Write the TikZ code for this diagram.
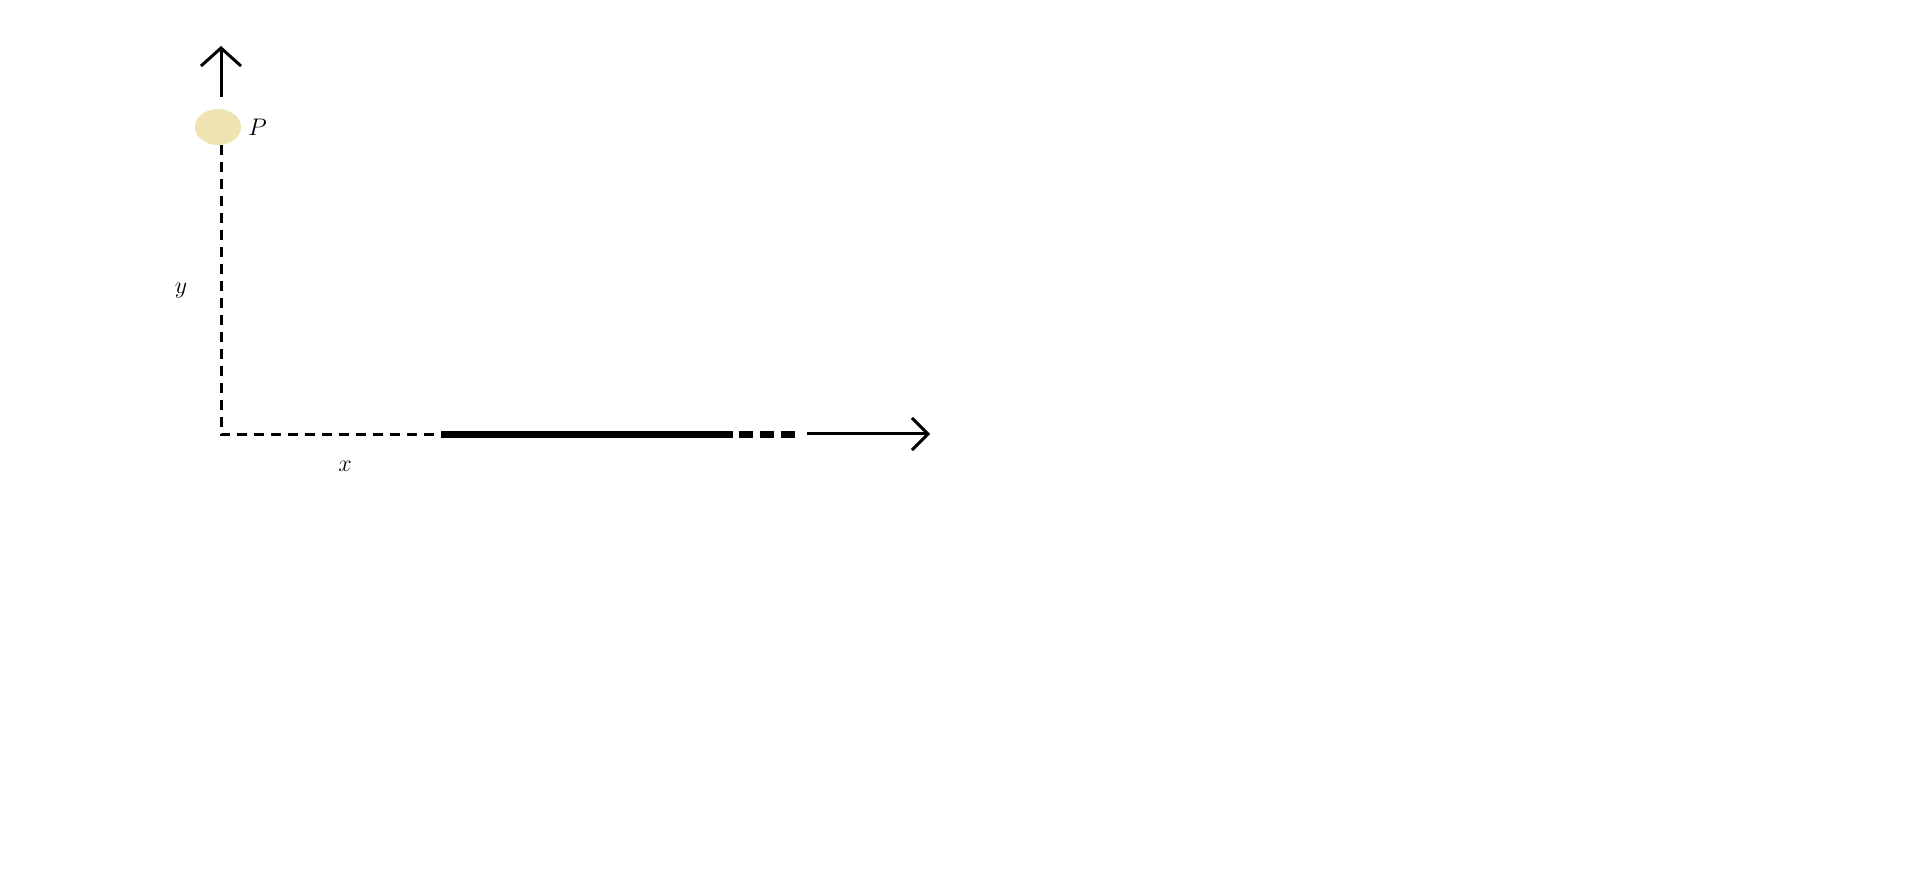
\documentclass[tikz,border=0pt]{standalone}
\usepackage{amsmath}
\usetikzlibrary{arrows.meta,shapes.geometric}
\definecolor{pointfill}{HTML}{EFE3B2}

\begin{document}
\begin{tikzpicture}[x=0.5pt,y=-0.5pt,
    axis/.style={line width=1.5pt,-{Straight Barb[length=9pt,width=20pt,line width=1.5pt]}},
    guide/.style={line width=1.5pt,dash pattern=on 5pt off 3.5pt},
    ray/.style={line width=3.5pt}]
\useasboundingbox (0,0) rectangle (1906,876);

\coordinate (O) at (221,435);
\coordinate (ytip) at (221,46);
\coordinate (rayA) at (441,435);
\coordinate (rayB) at (733,435);
\coordinate (rayC) at (798,435);
\coordinate (xfoot) at (807,434);
\coordinate (xtip) at (930,434);

\node[ellipse,fill=pointfill,minimum width=23pt,minimum height=18pt,inner sep=0pt] (pt) at (218,127) {};
\node[anchor=west,font=\large] (plab) at (pt.east) {$P$};

 \draw[axis] (pt.north -| O) ++(0,-12) coordinate (yfoot) -- (ytip);
 \draw[guide] (pt.south -| O) -- (O) -- (rayA);
 \draw[ray] (rayA) -- (rayB);
 \draw[ray,dash pattern=on 7pt off 3.5pt] (rayB) ++(6,0) -- (rayC);
 \draw[axis,-{Straight Barb[length=8pt,width=16pt,line width=1.5pt]}] (xfoot) -- (xtip);

\node[font=\large] (ylab) at (181,291) {$y$};
\node[font=\large] (xlab) at (345,466) {$x$};
\end{tikzpicture}
\end{document}
